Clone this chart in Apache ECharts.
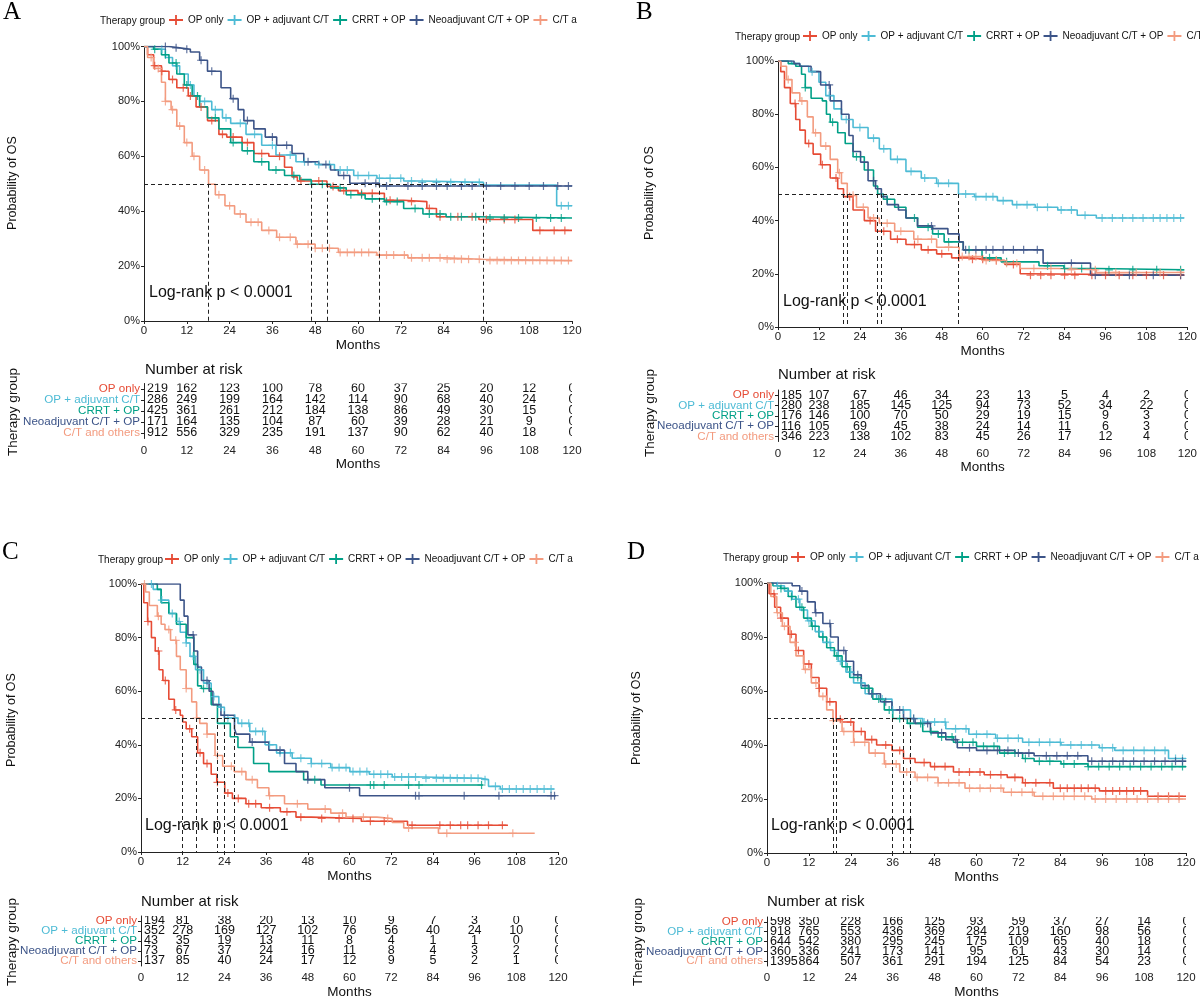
<!DOCTYPE html>
<html><head><meta charset="utf-8">
<script src="https://cdn.jsdelivr.net/npm/echarts@6/dist/echarts.min.js"></script>
<style>html,body{margin:0;padding:0;background:#fff}#c{width:1200px;height:1000px}</style>
</head><body><div id="c"></div>
<script>
// ---------------- data ----------------
const months = [0,12,24,36,48,60,72,84,96,108,120];
const groups = ['OP only','OP + adjuvant C/T','CRRT + OP','Neoadjuvant C/T + OP','C/T and others'];
const groupColors = ['#E64B35','#4DBBD5','#00A087','#3C5488','#F39B7F'];

// Panel A  (month, survival %)
const A_opOnly = [[0,100],[1,97],[2.7,93],[4.9,91],[7,88],[9.2,85],[12.4,82],[14.6,78],[17.8,73],[21,68],[23.2,67],[27.5,65],[30.8,61],[35,60],[39.4,56],[41.5,52.5],[43,51],[51.3,49],[54.5,47.5],[60,46.5],[67.4,44],[72.8,43.5],[79.3,41],[82,38],[93.9,37],[109,33],[120,33]];
const A_adjuvant = [[0,100],[2.7,99],[6,96],[8,93],[10,90],[12.4,86],[14,82],[15.6,80],[19,77],[22,74],[24.3,72],[28.6,68],[33,64],[37,60.5],[42.6,58],[48,57],[53.4,55],[58.8,53],[65.3,52],[72.8,51],[78,50.5],[95.2,49.5],[115.7,42],[120,42]];
const A_crrt = [[0,100],[2.7,99],[4.9,97],[7,94],[9.2,90],[11.3,86],[13.5,82],[15.6,78],[17.8,74],[21,70],[24.3,65],[27.5,62],[30.8,58],[35,55],[39.4,53],[43.7,51.5],[46.9,49.8],[52.3,48.5],[56.7,46],[62,44.5],[67.4,43.5],[72.8,41],[78.2,39],[84.7,38],[93.3,37.5],[120,37.5]];
const A_neoadj = [[0,100],[7,99.5],[10,99],[13,98],[15.6,95],[17.8,91],[21.6,85],[24.3,81],[26.4,77],[28,73],[30.8,70],[34,67],[37.2,64],[41.5,61],[44.8,58],[49,57],[52.3,55],[54.5,53],[57.7,50.2],[66,49.2],[120,49.2]];
const A_ctOthers = [[0,100],[1,96],[2.7,92],[4.9,87],[6,80],[7.6,77],[9.2,71],[11.3,65],[13.5,60],[15.6,55],[18.1,49.8],[20,46],[22.7,42],[25.4,39],[28.6,36],[33,33],[37.2,30.5],[42.6,28],[48,26.5],[54.5,25],[65.3,24],[74,23],[84.7,22.5],[94.4,22],[120,22]];
const A_opOnly_cens = [3,5,8,11,13,16,19,22,25,29,33,38,44,49,53,56,61,64,69,75,80,83,88,92,96,101,104,111,115,118];
const A_adjuvant_cens = [5,9,13,17,20,23,27,31,36,41,45,49,52,55,57,60,63,66,69,72,75,78,82,86,90,94,117,119];
const A_crrt_cens = [3,6,9,12,15,20,25,29,33,37,42,47,50,55,58,61,64,68,71,76,80,83,86,89,93,97,101,105,110,114,117];
const A_neoadj_cens = [6,9,12,16,19,25,29,36,40,46,51,56,62,65,68,74,78,82,85,89,92,96,100,104,108,112,116,119];
const A_ctOthers_cens = [2,4,6,8,10,12,14,17,21,24,27,30,32,35,38,41,43,46,48,50,52,55,57,59,61,63,66,68,70,73,75,78,80,83,85,87,89,91,94,97,99,101,103,105,107,109,111,113,115,117,119];
const A_medians = [18.1,46.9,51.3,66,95.2];
const A_risk = [[219,162,123,100,78,60,37,25,20,12,0],[286,249,199,164,142,114,90,68,40,24,0],[425,361,261,212,184,138,86,49,30,15,0],[171,164,135,104,87,60,39,28,21,9,0],[912,556,329,235,191,137,90,62,40,18,0]];

// Panel B
const B_opOnly = [[0,100],[0.8,96],[1.9,90],[3.6,84],[5.2,78],[6.4,74],[8,69],[10.3,65],[12.5,61],[15.3,56],[17.5,52],[19.2,49],[22,44],[25.3,40],[28.6,36],[33,33],[37.5,31],[42,29],[46.5,27.5],[50.9,26],[55.4,25.5],[62,25],[66.5,23.5],[71,20],[72.6,19.5],[119,19.5]];
const B_adjuvant = [[0,100],[4,99],[6.4,98],[9,96],[12,92],[14,87],[16.4,82],[18.6,78],[22,75],[26.4,71],[29.7,67],[33,63],[37.5,58.5],[42,56],[46.5,54],[52.9,50],[57.6,49],[64.3,47.5],[68.7,46],[75.4,45],[82,44],[87.7,42],[93.3,41],[119,41]];
const B_crrt = [[0,100],[3,99],[5.2,98],[6.9,95],[8,90],[9.7,86],[13,85],[14.2,80],[15.3,77],[17.5,73],[19.7,69],[22,64],[25.3,59],[28,53],[29.2,50],[30.9,48],[34.2,45],[37.5,41],[40.9,37.5],[45.3,35],[48.7,32],[54.3,29],[59.8,26],[65.4,24.5],[76.5,23],[83.8,22],[93.3,21.5],[119,21.5]];
const B_neoadj = [[0,100],[4.7,99],[6.4,98],[9.7,96],[12.5,91],[15.3,85],[18.6,80],[20.8,72],[22,66],[24.2,62],[26.4,55],[28.6,52],[30.3,49],[32,46],[35.3,44],[37.5,41],[40.9,38],[45.3,37],[49.8,35],[53.1,32],[54.3,29],[77.7,24],[91.6,19.5],[119,19.5]];
const B_ctOthers = [[0,100],[0.8,98],[2.5,93],[4.1,88],[6.4,85],[8.6,79],[10.3,73],[12.5,68],[15.3,63],[17.5,58],[18.6,54],[20.3,49.5],[23,45],[26.4,41],[29.7,39],[34.2,36],[39.8,33],[46.5,30],[53.1,26.5],[59.8,25],[66.5,24],[71,22],[82,21.5],[93.3,20.5],[119,20.5]];
const B_opOnly_cens = [5,9,13,17,21,27,31,35,40,44,48,53,57,60,64,69,74,77,80,84,87,92,96,100,104,108,113,118];
const B_adjuvant_cens = [10,15,20,24,28,31,35,39,43,47,50,55,58,61,63,66,70,73,76,79,83,86,90,95,98,101,104,107,110,112,114,116,118];
const B_crrt_cens = [8,16,23,32,40,44,47,50,56,62,67,79,84,89,97,104,111,118];
const B_neoadj_cens = [15,28,45,55,58,61,63,66,69,72,76,86,93,103,110,118];
const B_ctOthers_cens = [3,7,11,14,18,22,25,28,32,36,41,45,50,54,56,58,61,64,67,70,75,80,86,93,99,105,112,118];
const B_medians = [19.2,20.3,29.2,30.3,52.9];
const B_risk = [[185,107,67,46,34,23,13,5,4,2,0],[280,238,185,145,125,94,73,52,34,22,0],[176,146,100,70,50,29,19,15,9,3,0],[116,105,69,45,38,24,14,11,6,3,0],[346,223,138,102,83,45,26,17,12,4,0]];

// Panel C
const C_opOnly = [[0,100],[0.8,93],[1.9,86],[3,80],[4.1,75],[5.2,68],[6.3,64],[8,57],[9.6,53],[11.3,51],[12,48.5],[13,46],[14.6,43],[16.3,37],[18,33],[20.2,29],[21.8,26],[24.1,22],[26.3,20],[30.2,18],[34.6,16.5],[40.1,15],[44.6,13],[49,12.5],[63.4,11.5],[76.7,10],[105.6,10]];
const C_adjuvant = [[0,100],[3.5,98],[5.8,94],[8,89],[10.2,86],[11.3,82],[13,78],[14.1,73],[15.7,68],[18,63],[20.2,58],[22.4,54],[24,50],[27.9,48],[31.3,45],[35.7,40],[39,37],[43.5,35],[49,33],[54.6,31.5],[60.1,30],[65.7,29],[72.3,28],[81.2,27.5],[97.8,27],[100,24.5],[103.4,23.5],[118.9,23.5]];
const C_crrt = [[0,100],[3.5,100],[4.7,98],[5.8,93],[8,89],[10.2,85],[13,80],[15.2,70],[16.3,62],[17.4,61],[20.2,55],[22,48],[25.7,43],[27.9,39],[32.4,33],[36.8,30],[46.8,27],[51.8,25],[98.4,25]];
const C_neoadj = [[0,100],[10.2,100],[11.3,94],[12.4,88],[13.5,81],[15.2,75],[16.3,69],[17.4,64],[19.6,60],[20.7,55],[23,51],[26.9,46],[27.4,44],[31.3,41],[36.8,38],[41.3,33],[44.6,30],[48,27],[52.9,24],[62.9,21],[119.4,21]];
const C_ctOthers = [[0,100],[1.3,97],[2.4,92],[4.7,88],[5.8,85],[6.9,83],[8.5,79],[10.2,73],[11.3,68],[13,61],[14.6,56],[16,50],[16.9,48],[19,44],[21.3,36],[23.5,32],[26.8,30],[30.2,27],[33.5,24],[36.8,21],[41.3,18],[48,16],[54.6,14.5],[59,13],[67.9,12.5],[72.3,11],[75.6,9],[85.6,7],[113.3,7]];
const C_opOnly_cens = [2,5,7,10,14,17,19,22,25,28,31,33,37,42,46,52,57,61,66,70,78,86,89,92,94,97,100,104];
const C_adjuvant_cens = [3,6,9,11,13,15,17,19,21,23,25,27,29,31,33,35,37,40,43,46,49,52,55,57,59,61,63,65,67,69,71,73,75,77,79,82,85,87,89,91,93,95,97,99,102,104,106,108,110,112,114,116,118];
const C_crrt_cens = [18,24,50,66,67,70,77,80,98];
const C_neoadj_cens = [15,19,24,32,40,48,60,79,80,93,103,118,119];
const C_ctOthers_cens = [1,5,8,10,13,16,19,22,26,29,32,37,45,53,58,64,71,77,88,107];
const C_medians = [12,16,22,24,26.9];
const C_risk = [[194,81,38,20,13,10,9,7,3,0,0],[352,278,169,127,102,76,56,40,24,10,0],[43,35,19,13,11,8,4,1,1,0,0],[73,67,37,24,16,11,8,4,3,2,0],[137,85,40,24,17,12,9,5,2,1,0]];

// Panel D
const D_opOnly = [[0,100],[0.6,96],[2.2,91],[3.9,87],[6.1,81],[8.3,75],[10.5,70],[12.7,65],[14.9,61],[17.1,56],[19.8,49.5],[21.5,48.5],[24.8,45],[28.1,42],[31.4,40],[35.8,38],[39.1,35],[42.4,33.5],[46.8,32],[53.4,30],[62.2,29],[68.8,28],[73.2,26],[82,24],[95.2,23],[109,21],[120,21]];
const D_adjuvant = [[0,100],[2.8,99],[5,97],[7.2,94],[9.4,90],[11.6,86],[13.8,82],[16,78],[18.2,75],[20.4,71],[22.6,67],[24.8,63],[28.1,59],[31.4,57],[35.8,53],[41.1,49.8],[44.6,48.5],[51.2,46],[57.8,44],[65.5,42.5],[73.2,41],[84.2,40],[95.2,39],[99.6,38],[115,35],[120,35]];
const D_crrt = [[0,100],[1.7,99],[3.9,98],[6.1,95],[8.3,91],[10.5,87],[12.7,84],[14.9,80],[17.1,76],[19.3,73],[21.5,69],[23.7,65],[27,61],[30.3,57],[33.6,53],[36,49.8],[40.2,48],[44.6,45],[49,43],[53.4,41],[60,39.5],[66.6,37],[73.2,35],[76.5,34],[84.2,33],[91.9,32],[120,32]];
const D_neoadj = [[0,100],[5,100],[7.2,99],[9.4,97],[11.6,93],[13.8,89],[16,85],[18.2,80],[20.4,75],[22.6,71],[24.8,66],[27,62],[29.2,59],[32.5,56],[35.8,53],[39.1,49.8],[42.4,48],[46.8,44.5],[51.2,42],[54.5,39],[60,38],[71,37],[76.5,36],[91.9,34],[120,34]];
const D_ctOthers = [[0,100],[1.1,95],[2.8,89],[4.4,84],[6.6,78],[8.3,73],[10.5,68],[12.7,63],[14.9,58],[17.1,53],[18.9,49],[21.5,45],[24.8,41],[29.2,37],[33.6,33],[38,30],[42.4,28],[49,26],[56.7,24],[67.7,22.5],[76.5,21],[93,20],[120,20]];
const D_opOnly_cens = [2,4,7,9,12,15,18,21,24,27,30,34,38,41,45,48,51,55,58,61,64,67,71,74,77,81,84,86,88,90,92,94,97,99,101,103,105,107,112,115,118];
const D_adjuvant_cens = [3,6,9,12,15,18,21,24,27,30,33,36,39,42,45,48,51,54,57,60,63,66,69,72,75,78,81,84,87,90,93,96,99,102,105,108,111,114,117,119];
const D_crrt_cens = [4,7,10,13,16,20,23,26,29,32,35,38,41,44,47,50,53,56,59,62,65,68,71,74,78,81,85,88,92,95,98,101,104,107,110,113,116,119];
const D_neoadj_cens = [10,14,18,22,26,30,34,38,42,46,50,54,58,63,66,69,72,75,80,83,86,89,93,96,99,102,105,108,111,114,117,119];
const D_ctOthers_cens = [3,5,8,11,14,16,19,22,25,28,31,34,37,40,43,46,49,52,55,58,61,64,67,70,73,76,79,82,85,88,91,94,97,100,103,106,109,112,115,118];
const D_medians = [18.9,19.8,36,39.1,41.1];
const D_risk = [[598,350,228,166,125,93,59,37,27,14,0],[918,765,553,436,369,284,219,160,98,56,0],[644,542,380,295,245,175,109,65,40,18,0],[360,336,241,173,141,95,61,43,30,14,0],[1395,864,507,361,291,194,125,84,54,23,0]];

// ---------------- layout ----------------
const FONT = "'Liberation Sans', Arial, sans-serif";
const AX = '#222';
const LEG_ICON = 'path://M0,4.1L14,4.1L14,5.9L0,5.9Z M6.1,0L7.9,0L7.9,10L6.1,10Z';
const CENSOR = 'path://M0,4.25L10,4.25L10,5.75L0,5.75Z M4.25,0L5.75,0L5.75,10L4.25,10Z';

const panels = [
  {letter:'A', km:{left:144,top:46.5,width:428,height:274.5}, risk:{left:144,top:383.5,width:428,height:55},
   curves:[A_opOnly,A_adjuvant,A_crrt,A_neoadj,A_ctOthers], cens:[A_opOnly_cens,A_adjuvant_cens,A_crrt_cens,A_neoadj_cens,A_ctOthers_cens],
   medians:A_medians, riskN:A_risk, L:[11,12], legT:[100,21], legLeft:169, lastW:28, lr:[149,293], nar:[145,370], yT:[13,183], rT:[13,412]},
  {letter:'B', km:{left:778,top:61,width:414,height:266}, risk:{left:778,top:390,width:414,height:51.5},
   curves:[B_opOnly,B_adjuvant,B_crrt,B_neoadj,B_ctOthers], cens:[B_opOnly_cens,B_adjuvant_cens,B_crrt_cens,B_neoadj_cens,B_ctOthers_cens],
   medians:B_medians, riskN:B_risk, L:[644,12], legT:[735,37], legLeft:803, lastW:32, lr:[783,302], nar:[778,375], yT:[650,193], rT:[650,413]},
  {letter:'C', km:{left:141,top:584,width:417,height:268}, risk:{left:141,top:916,width:417,height:50},
   curves:[C_opOnly,C_adjuvant,C_crrt,C_neoadj,C_ctOthers], cens:[C_opOnly_cens,C_adjuvant_cens,C_crrt_cens,C_neoadj_cens,C_ctOthers_cens],
   medians:C_medians, riskN:C_risk, L:[10,552], legT:[98,560], legLeft:165, lastW:28, lr:[145,826], nar:[141,902], yT:[12,720], rT:[12,942]},
  {letter:'D', km:{left:767,top:583,width:419,height:270}, risk:{left:767,top:917,width:419,height:50},
   curves:[D_opOnly,D_adjuvant,D_crrt,D_neoadj,D_ctOthers], cens:[D_opOnly_cens,D_adjuvant_cens,D_crrt_cens,D_neoadj_cens,D_ctOthers_cens],
   medians:D_medians, riskN:D_risk, L:[635,552], legT:[723,558], legLeft:791, lastW:28, lr:[771,826], nar:[767,902], yT:[637,718], rT:[638,942]}
];

function survAt(curve, t){ let v = curve[0][1]; for (const [tt,s] of curve){ if (tt <= t) v = s; else break; } return v; }

function txt(x,y,text,font,opts){
  opts = opts || {};
  return {type:'text', x:x, y:y, rotation:opts.rot||0, silent:true, z:50,
    style:{text:text, font:font, fill:opts.fill||'#111', align:opts.align||'left', verticalAlign:'middle',
           textAlign:opts.align||'left', textVerticalAlign:'middle'}};
}

function renderRisk(params, api){
  const t = api.value(0), r = api.value(1), n = api.value(2);
  const pt = api.coord([t, r]);
  const first = t === 0;
  const al = first ? 'left' : 'center';
  return {type:'text', x: first ? pt[0]+3 : pt[0], y: pt[1],
    style:{text:String(n), font:'12.5px ' + FONT, fill:'#111', align:al, verticalAlign:'middle', textAlign:al, textVerticalAlign:'middle'}};
}

const grid=[], xAxis=[], yAxis=[], series=[], legend=[], graphic=[];
const richG = {};
groupColors.forEach((c,i)=>{ richG['g'+i] = {color:c, fontSize:11.6, fontFamily:FONT}; });

panels.forEach(p => {
  const k = grid.length;
  grid.push(Object.assign({containLabel:false}, p.km));
  xAxis.push({gridIndex:k, type:'value', min:0, max:120, interval:12, name:'Months', nameLocation:'middle', nameGap:16,
    nameTextStyle:{fontFamily:FONT, fontSize:13.5, color:'#111'},
    axisLine:{lineStyle:{color:AX, width:1}}, axisTick:{length:3, lineStyle:{color:AX}},
    axisLabel:{margin:4, fontSize:11.5, color:'#222', fontFamily:FONT}, splitLine:{show:false}});
  yAxis.push({gridIndex:k, type:'value', min:0, max:100, interval:20,
    axisLine:{show:true, lineStyle:{color:AX, width:1}}, axisTick:{show:true, length:3, lineStyle:{color:AX}},
    axisLabel:{formatter:'{value}%', margin:4, fontSize:11, color:'#222', fontFamily:FONT}, splitLine:{show:false}});
  p.curves.forEach((c, gi) => {
    series.push({type:'line', name:groups[gi], xAxisIndex:k, yAxisIndex:k, data:c, step:'end', symbol:'none', showSymbol:false,
      lineStyle:{color:groupColors[gi], width:1.6}, itemStyle:{color:groupColors[gi]}, z:2, silent:true, animation:false});
    series.push({type:'scatter', name:groups[gi], xAxisIndex:k, yAxisIndex:k, data:p.cens[gi].map(t => [t, survAt(c,t)]),
      symbol:CENSOR, symbolSize:8, itemStyle:{color:groupColors[gi]}, z:3, silent:true, animation:false});
  });
  const maxMed = Math.max.apply(null, p.medians);
  series.push({type:'scatter', name:'median', xAxisIndex:k, yAxisIndex:k, data:[[0,50]], symbolSize:0, silent:true, animation:false,
    markLine:{silent:true, symbol:['none','none'], label:{show:false}, animation:false,
      lineStyle:{type:[4,3], color:'#222', width:1},
      data:[[{coord:[0,50]},{coord:[maxMed,50]}]].concat(p.medians.map(m => [{coord:[m,50]},{coord:[m,0]}]))}});

  const r = grid.length;
  grid.push(Object.assign({containLabel:false}, p.risk));
  xAxis.push({gridIndex:r, type:'value', min:0, max:120, interval:12, name:'Months', nameLocation:'middle', nameGap:19,
    nameTextStyle:{fontFamily:FONT, fontSize:13.5, color:'#111'},
    axisLine:{lineStyle:{color:AX, width:1}}, axisTick:{show:false},
    axisLabel:{margin:6, fontSize:11.5, color:'#222', fontFamily:FONT}, splitLine:{show:false}});
  yAxis.push({gridIndex:r, type:'category', data:groups, inverse:true,
    axisLine:{show:true, lineStyle:{color:AX, width:1}}, axisTick:{show:true, length:3, alignWithLabel:true, interval:0, lineStyle:{color:AX}},
    axisLabel:{margin:4, interval:0, formatter:(v,i)=>'{g'+i+'|'+v+'}', rich:richG}, splitLine:{show:false}});
  const items = [];
  p.riskN.forEach((row, ri) => row.forEach((n, ti) => items.push([months[ti], ri, n])));
  series.push({type:'custom', name:'Number at risk', xAxisIndex:r, yAxisIndex:r, clip:true, silent:true, animation:false,
    data:items, encode:{x:0, y:1}, renderItem:renderRisk});

  legend.push({left:p.legLeft, top:p.legT[1]-6, width:900, orient:'horizontal', itemWidth:14, itemHeight:10, itemGap:4,
    icon:LEG_ICON, selectedMode:false, padding:0,
    textStyle:{fontFamily:FONT, fontSize:10, color:'#111'},
    data:groups.map((g,i)=> i===4 ? {name:g, textStyle:{width:p.lastW, overflow:'truncate', ellipsis:''}} : {name:g})});

  graphic.push(txt(p.L[0]-8, p.L[1], p.letter, "25px 'Liberation Serif', 'Times New Roman', serif", {fill:'#000'}));
  graphic.push(txt(p.legT[0], p.legT[1], 'Therapy group', '10px ' + FONT));
  graphic.push(txt(p.lr[0], p.lr[1], 'Log-rank p < 0.0001', '16px ' + FONT));
  graphic.push(txt(p.nar[0], p.nar[1], 'Number at risk', '15px ' + FONT));
  graphic.push(txt(p.yT[0], p.yT[1], 'Probability of OS', '12.5px ' + FONT, {rot:Math.PI/2, align:'center'}));
  graphic.push(txt(p.rT[0], p.rT[1], 'Therapy group', '13.5px ' + FONT, {rot:Math.PI/2, align:'center'}));
});

const chart = echarts.init(document.getElementById('c'), null, {renderer:'canvas'});
chart.setOption({backgroundColor:'#fff', animation:false, grid, xAxis, yAxis, series, legend, graphic:{elements:graphic}});
</script>
</body></html>
